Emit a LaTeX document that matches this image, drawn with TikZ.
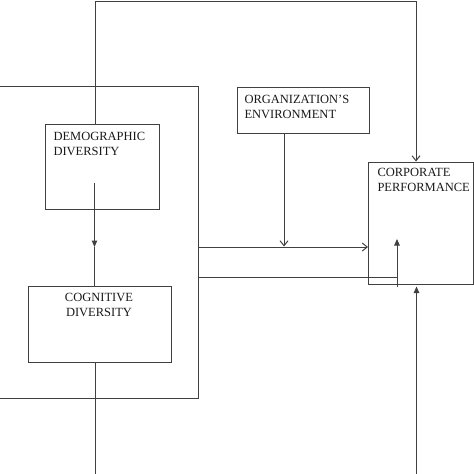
\documentclass[tikz,border=0pt]{standalone}
\usepackage{fontspec}
\setmainfont{Liberation Serif}
\usetikzlibrary{arrows.meta}
\begin{document}
\begin{tikzpicture}[x=1pt,y=-1pt,
  line width=1pt,
  conn/.style={draw=black!75},
  box/.style={draw=black!75,line width=1pt,rectangle,inner sep=0pt,minimum width=#1},
  txt/.style={inner sep=0pt,font=\fontsize{12.5}{15}\selectfont,text=black!90},
  barb/.style={conn,-{Straight Barb[length=5pt,width=8pt,line width=1pt]}},
  tri/.style={conn,-{Triangle[length=6.5pt,width=5.5pt]}}]
\useasboundingbox (0,0) rectangle (474,474);
% boxes
\node[box=200,minimum height=312] (outer) at (98.5,242) {};
\node[box=114,minimum height=85] (demo) at (102,166.5) {};
\node[box=143,minimum height=76] (cog) at (99.5,324) {};
\node[box=132,minimum height=46] (org) at (303,110) {};
\node[box=105,minimum height=122] (corp) at (421,223) {};
% texts
\node[txt,anchor=north west,align=left] (tdemo) at (53,131.5) {DEMOGRAPHIC\\DIVERSITY};
\node[txt,anchor=north,align=center] (tcog) at (99,293) {COGNITIVE\\DIVERSITY};
\node[txt,anchor=north west,align=left] (torg) at (244,94.5) {ORGANIZATION’S\\ENVIRONMENT};
\node[txt,anchor=north west,align=left] (tcorp) at (377,168) {CORPORATE\\PERFORMANCE};
% coordinates
\coordinate (tl) at (95,1);
\coordinate (tr) at (416,1);
\coordinate (dstart) at (94.5,183);
\coordinate (dmid) at (94.5,247);
\coordinate (botl) at (95,476);
\coordinate (botr) at (416.5,476);
\coordinate (h2end) at (397,277);
\coordinate (v2start) at (397,286.5);
\coordinate (v2tip) at (397,239);
% connectors
\draw[conn] (demo.north -| tl) -- (tl) -- (tr);
\draw[barb] (tr) -- (corp.north -| tr);
\draw[tri] (dstart) -- (dmid);
\draw[conn] (dmid) -- (cog.north -| dmid);
\draw[conn] (cog.south -| botl) -- (botl);
\draw[tri] (botr) -- ([yshift=-2pt]corp.south -| botr);
\draw[barb] (outer.east |- dmid) -- (corp.west |- dmid);
\draw[barb] (org.south -| 284,0) -- (284,246.5);
\draw[conn] (outer.east |- h2end) -- (h2end);
\draw[tri] (v2start) -- (v2tip);
\end{tikzpicture}
\end{document}
